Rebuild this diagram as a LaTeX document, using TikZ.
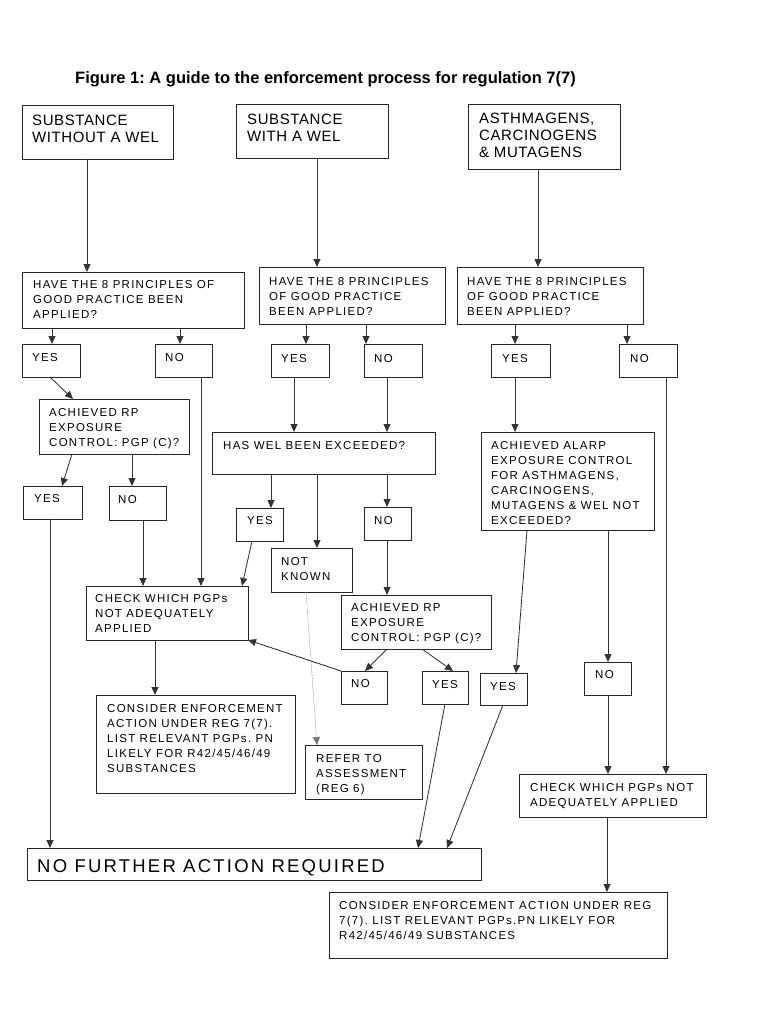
\documentclass[tikz,border=0pt]{standalone}
\usepackage{fontspec}
\setmainfont{Liberation Sans}
\newfontfamily\boxfont[LetterSpace=11]{Liberation Sans}
\newfontfamily\bigfont[LetterSpace=4]{Liberation Sans}
\newfontfamily\nfafont[LetterSpace=12]{Liberation Sans}
\usetikzlibrary{arrows.meta}
\frenchspacing
\newcommand\fbx[5]{\node[box, minimum width=#4pt, minimum height=#5pt] (#1) at (#2,#3) {};}
\begin{document}
\begin{tikzpicture}[x=1pt,y=-1pt,
 box/.style={draw=black!85, line width=0.9pt, anchor=north west, inner sep=0pt, outer sep=0pt},
 sm/.style={anchor=north west, inner sep=0pt, align=left, font=\boxfont\fontsize{11.5}{15}\selectfont},
 big/.style={anchor=north west, inner sep=0pt, align=left, font=\bigfont\fontsize{15}{17}\selectfont},
 arr/.style={draw=black!80, line width=0.85pt, -{Triangle[length=8pt,width=7pt]}},
 dots/.style={draw=black!55, line width=0.6pt, densely dotted, -{Triangle[length=8pt,width=7pt]}},
]
\fill[white] (0,0) rectangle (768,1024);
\useasboundingbox (0,0) rectangle (768,1024);

\node[anchor=base west, inner sep=0pt, font=\bfseries\fontsize{16.5}{18}\selectfont] (title) at (75,84)
 {Figure 1: A guide to the enforcement process for regulation 7(7)};

% boxes
\fbx{s1}{22}{105}{151}{54}
\fbx{s2}{236}{104}{152}{54}
\fbx{s3}{468}{104}{152}{65}
\fbx{q1}{22}{272}{222}{56}
\fbx{q2}{259}{267}{186}{57}
\fbx{q3}{457}{267}{186}{57}
\fbx{yes1}{22}{344}{58}{33}
\fbx{no1}{155}{344}{57}{33}
\fbx{yes2}{271}{344}{58}{33}
\fbx{no2}{364}{344}{58}{33}
\fbx{yes5}{491}{344}{59}{33}
\fbx{no5}{619}{344}{58}{33}
\fbx{ach1}{39}{399}{150}{55}
\fbx{haswel}{212}{432}{223}{42}
\fbx{alarp}{481}{432}{173}{98}
\fbx{yes3}{23}{486}{59}{33}
\fbx{no3}{109}{486}{57}{34}
\fbx{yes4}{236}{508}{47}{33}
\fbx{no4}{364}{507}{47}{33}
\fbx{notknown}{271}{548}{81}{44}
\fbx{check1}{86}{586}{162}{54}
\fbx{ach2}{341}{595}{150}{54}
\fbx{no6}{341}{671}{46}{33}
\fbx{yes6}{422}{671}{46}{33}
\fbx{yes7}{480}{673}{47}{32}
\fbx{no7}{584}{662}{47}{33}
\fbx{cons1}{96}{695}{199}{98}
\fbx{refer}{305}{745}{117}{54}
\fbx{check2}{519}{774}{187}{43}
\fbx{nfa}{27}{848}{454}{32}
\fbx{cons2}{329}{892}{338}{66}

% texts
\node[big] (s1t) at (32,114.5) {SUBSTANCE\\WITHOUT A WEL};
\node[big] (s2t) at (247,113.5) {SUBSTANCE\\WITH A WEL};
\node[big] (s3t) at (479,112.5) {ASTHMAGENS,\\CARCINOGENS\\\& MUTAGENS};
\node[sm] (q1t) at (33,280) {HAVE THE 8 PRINCIPLES OF\\GOOD PRACTICE BEEN\\APPLIED?};
\node[sm] (q2t) at (269,277) {HAVE THE 8 PRINCIPLES\\OF GOOD PRACTICE\\BEEN APPLIED?};
\node[sm] (q3t) at (467,277) {HAVE THE 8 PRINCIPLES\\OF GOOD PRACTICE\\BEEN APPLIED?};
\node[sm] (yes1t) at (32,353) {YES};
\node[sm] (no1t) at (165,353) {NO};
\node[sm] (yes2t) at (281,354) {YES};
\node[sm] (no2t) at (374,354) {NO};
\node[sm] (yes5t) at (502,354) {YES};
\node[sm] (no5t) at (630,354) {NO};
\node[sm] (ach1t) at (49,408) {ACHIEVED RP\\EXPOSURE\\CONTROL: PGP (C)?};
\node[sm] (haswelt) at (223,441) {HAS WEL BEEN EXCEEDED?};
\node[sm] (alarpt) at (491,441) {ACHIEVED ALARP\\EXPOSURE CONTROL\\FOR ASTHMAGENS,\\CARCINOGENS,\\MUTAGENS \& WEL NOT\\EXCEEDED?};
\node[sm] (yes3t) at (34,494) {YES};
\node[sm] (no3t) at (118,495) {NO};
\node[sm] (yes4t) at (247,516) {YES};
\node[sm] (no4t) at (374,516) {NO};
\node[sm] (notknownt) at (281,557) {NOT\\KNOWN};
\node[sm] (check1t) at (95,594) {CHECK WHICH PGPs\\NOT ADEQUATELY\\APPLIED};
\node[sm] (ach2t) at (351,603) {ACHIEVED RP\\EXPOSURE\\CONTROL: PGP (C)?};
\node[sm] (no6t) at (351,679) {NO};
\node[sm] (yes6t) at (432,680) {YES};
\node[sm] (yes7t) at (490,682) {YES};
\node[sm] (no7t) at (595,670) {NO};
\node[sm] (cons1t) at (107,704) {CONSIDER ENFORCEMENT\\ACTION UNDER REG 7(7).\\LIST RELEVANT PGPs. PN\\LIKELY FOR R42/45/46/49\\SUBSTANCES};
\node[sm] (refert) at (316,754) {REFER TO\\ASSESSMENT\\(REG 6)};
\node[sm] (check2t) at (530,783) {CHECK WHICH PGPs NOT\\ADEQUATELY APPLIED};
\node[anchor=north west, inner sep=0pt, font=\nfafont\fontsize{18.5}{20}\selectfont] (nfat) at (37,859.5) {NO FURTHER ACTION REQUIRED};
\node[sm] (cons2t) at (339,901) {CONSIDER ENFORCEMENT ACTION UNDER REG\\7(7). LIST RELEVANT PGPs.PN LIKELY FOR\\R42/45/46/49 SUBSTANCES};

% connectors
\draw[arr] ([xshift=65pt]s1.south west) -- ([xshift=65pt]q1.north west);
\draw[arr] ([xshift=81pt]s2.south west) -- ([xshift=58pt]q2.north west);
\draw[arr] ([xshift=70pt]s3.south west) -- ([xshift=81pt]q3.north west);
\draw[arr] ([xshift=30pt]q1.south west) -- ([xshift=30pt]yes1.north west);
\draw[arr] ([xshift=158pt]q1.south west) -- ([xshift=25pt]no1.north west);
\draw[arr] ([xshift=47pt]q2.south west) -- ([xshift=35pt]yes2.north west);
\draw[arr] ([xshift=107pt]q2.south west) -- ([xshift=2pt]no2.north west);
\draw[arr] ([xshift=58pt]q3.south west) -- ([xshift=24pt]yes5.north west);
\draw[arr] ([xshift=170pt]q3.south west) -- ([xshift=8pt]no5.north west);
\draw[arr] ([xshift=28pt]yes1.south west) -- ([xshift=34pt]ach1.north west);
\draw[arr] ([xshift=46pt]no1.south west) -- ([xshift=115pt]check1.north west);
\draw[arr] ([xshift=23pt]yes2.south west) -- ([xshift=82pt]haswel.north west);
\draw[arr] ([xshift=23pt]no2.south west) -- ([xshift=175pt]haswel.north west);
\draw[arr] ([xshift=24pt]yes5.south west) -- ([xshift=34pt]alarp.north west);
\draw[arr] ([xshift=47pt]no5.south west) -- ([xshift=147pt]check2.north west);
\draw[arr] ([xshift=33pt]ach1.south west) -- ([xshift=39pt]yes3.north west);
\draw[arr] ([xshift=93pt]ach1.south west) -- ([xshift=23pt]no3.north west);
\draw[arr] ([xshift=59pt]haswel.south west) -- ([xshift=35pt]yes4.north west);
\draw[arr] ([xshift=105pt]haswel.south west) -- ([xshift=46pt]notknown.north west);
\draw[arr] ([xshift=175pt]haswel.south west) -- ([xshift=23pt]no4.north west);
\draw[arr] ([xshift=46pt]alarp.south west) -- ([xshift=36pt]yes7.north west);
\draw[arr] ([xshift=127pt]alarp.south west) -- ([xshift=24pt]no7.north west);
\draw[arr] ([xshift=27pt]yes3.south west) -- ([xshift=23pt]nfa.north west);
\draw[arr] ([xshift=34pt]no3.south west) -- ([xshift=57pt]check1.north west);
\draw[arr] ([xshift=16pt]yes4.south west) -- ([xshift=156pt]check1.north west);
\draw[arr] ([xshift=23pt]no4.south west) -- ([xshift=46pt]ach2.north west);
\draw[dots] ([xshift=35pt]notknown.south west) -- ([xshift=12pt]refer.north west);
\draw[arr] ([xshift=46pt]ach2.south west) -- ([xshift=24pt]no6.north west);
\draw[arr] ([xshift=81pt]ach2.south west) -- ([xshift=31pt]yes6.north west);
\draw[arr] (no6.north west) -- (check1.south east);
\draw[arr] ([xshift=69pt]check1.south west) -- ([xshift=59pt]cons1.north west);
\draw[arr] ([xshift=23pt]yes6.south west) -- ([xshift=391pt]nfa.north west);
\draw[arr] ([xshift=23pt]yes7.south west) -- ([xshift=420pt]nfa.north west);
\draw[arr] ([xshift=24pt]no7.south west) -- ([xshift=89pt]check2.north west);
\draw[arr] ([xshift=88pt]check2.south west) -- ([xshift=278pt]cons2.north west);
\end{tikzpicture}
\end{document}
